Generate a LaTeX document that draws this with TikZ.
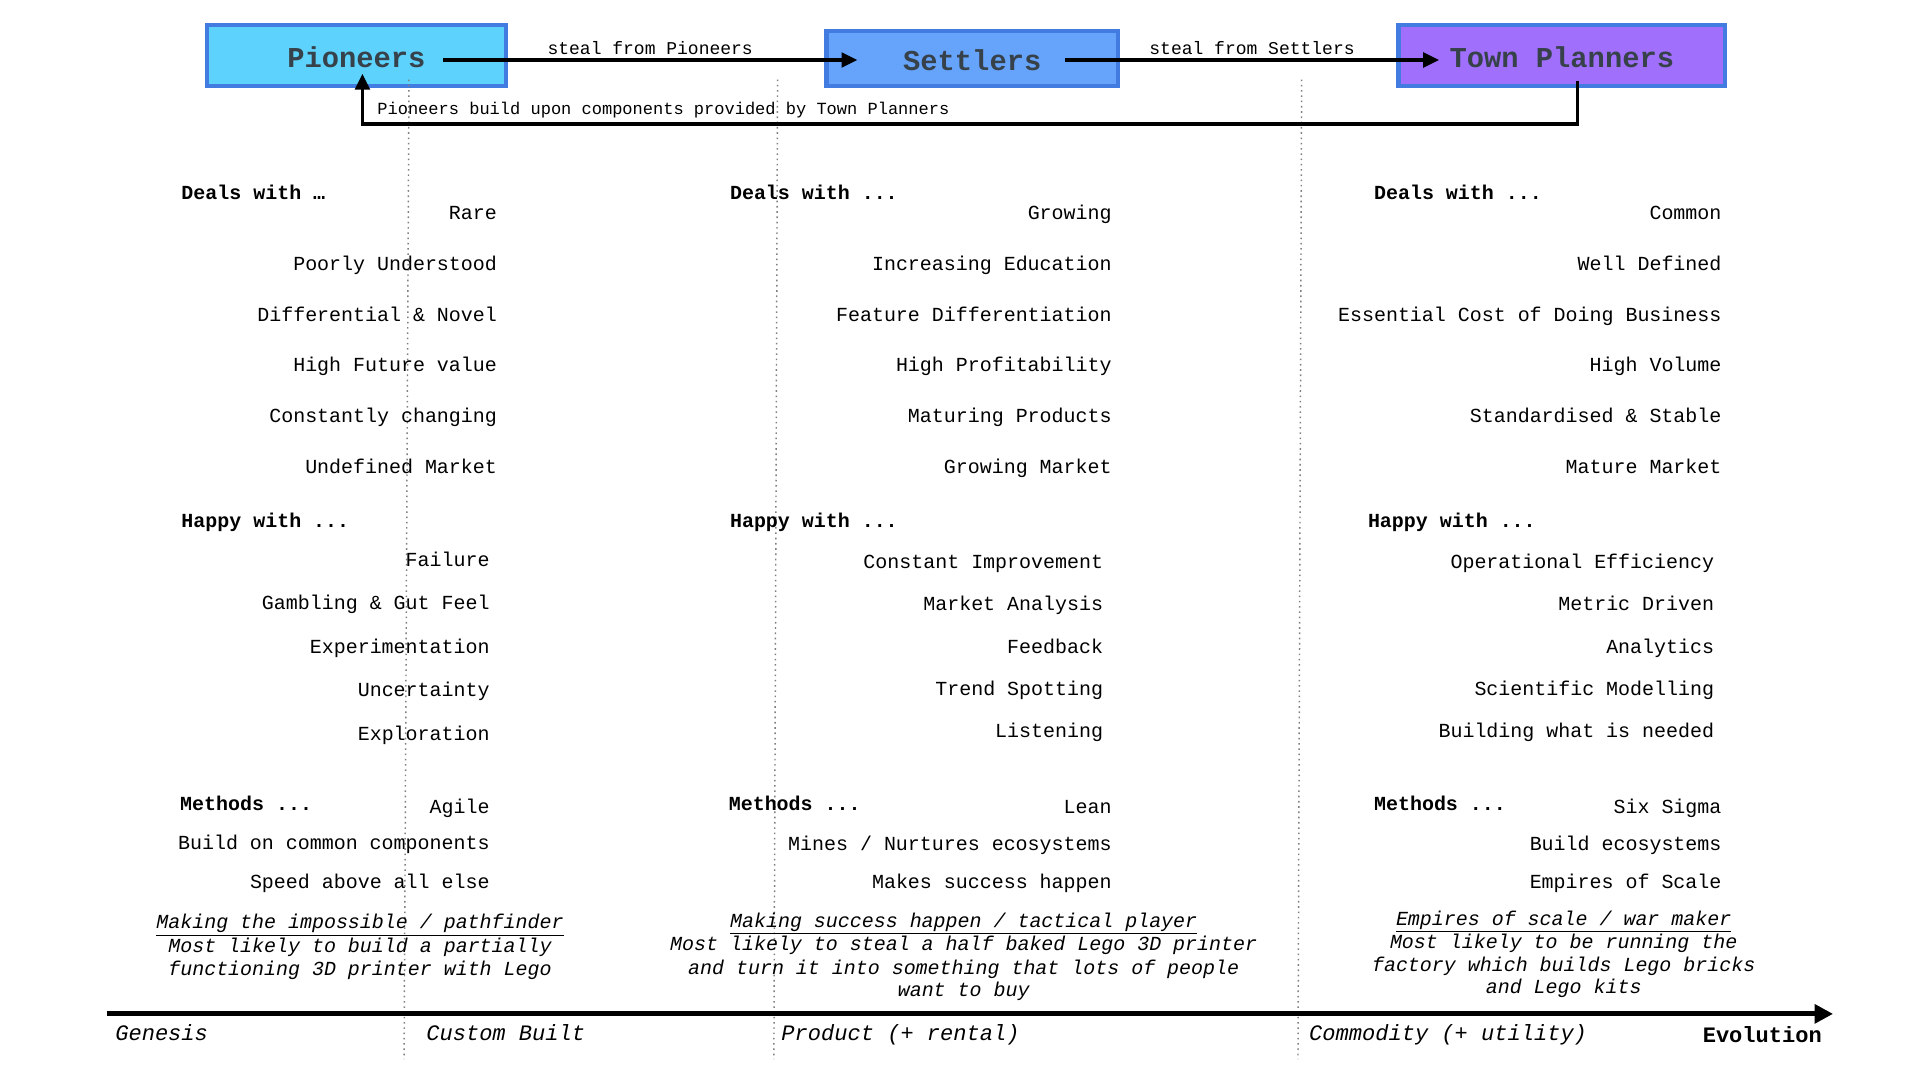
\documentclass[tikz,border=0pt]{standalone}
\usepackage{fontspec}
\setmainfont{Liberation Mono}
\usetikzlibrary{positioning,calc,arrows.meta}
\usepackage{xcolor}
\definecolor{pioneerfill}{HTML}{5CD2FD}
\definecolor{settlerfill}{HTML}{66A4FB}
\definecolor{plannerfill}{HTML}{A070FD}
\definecolor{boxborder}{HTML}{437CE0}
\definecolor{boxtext}{HTML}{37414A}
\tikzset{
  role/.style={
    rectangle, draw=boxborder, line width=3.5pt,
    minimum height=50pt, inner sep=0pt, text height=21pt, text depth=2pt,
    text=boxtext, font=\fontsize{23.5}{26}\selectfont\bfseries
    },
  flow/.style={line width=2.6pt, -{Triangle[length=13pt,width=12pt]}},
  flowlabel/.style={font=\fontsize{14.7}{16}\selectfont, inner sep=0pt},
  item/.style={anchor=mid east, inner sep=0pt, yshift=-3pt, font=\fontsize{16.3}{18}\selectfont},
  heading/.style={anchor=mid west, inner sep=0pt, yshift=-3pt, font=\fontsize{16.3}{18}\selectfont\bfseries},
  story/.style={anchor=mid, inner sep=0pt, yshift=-3pt, font=\fontsize{16.3}{18}\selectfont\itshape},
  stage/.style={anchor=mid west, inner sep=0pt, yshift=-3pt, font=\fontsize{18}{20}\selectfont\itshape},
  divider/.style={gray, line width=1.2pt, dash pattern=on 1.3pt off 3pt}
}

\begin{document}
\begin{tikzpicture}[x=1pt,y=-1pt]
    \useasboundingbox (0,0) rectangle (1568,882);

    % roles
    \node[role, fill=pioneerfill, minimum width=244pt] (pio) at (291,45.5) {Pioneers};
    \node[role, fill=settlerfill, minimum width=238pt, minimum height=45pt] (set) at (794,48) {Settlers};
    \node[role, fill=plannerfill, minimum width=267pt] (tow) at (1275.5,45.5) {Town Planners};

    % dividers
    \coordinate (dv1t) at (334,65);  \coordinate (dv1b) at (330,865);
    \coordinate (dv2t) at (635,65);  \coordinate (dv2b) at (632,865);
    \coordinate (dv3t) at (1063,65); \coordinate (dv3b) at (1060,865);
    \foreach \i in {1,2,3}
        \draw[divider] (dv\i t) -- (dv\i b);

    % stealing and feedback
    \draw[flow] ($(pio.east)+(-53,3.5)$) -- node[flowlabel, above=3pt] (stp) {steal from Pioneers} ($(set.west)+(27,1)$);
    \draw[flow] ($(set.east)+(-45,1)$) -- node[flowlabel, above=3pt] (sts) {steal from Settlers} ($(tow.west)+(35,3.5)$);
    \draw[flow] ($(tow.south)+(12.5,-6)$) |- ($(pio.south)+(5,29)$) coordinate (fbk) -- ($(pio.south)+(5,-12)$);
    \node[flowlabel, anchor=mid west, font=\fontsize{13.9}{15}\selectfont] (fbl) at ($(fbk)+(12,-10)$)
        {Pioneers build upon components provided by Town Planners};

    % pioneers column
    \node[heading] (pdh) at (148,157) {Deals with …};
    \foreach \t/\y [count=\i] in {Rare/174, Poorly Understood/215, {Differential \& Novel}/257,
        High Future value/298, Constantly changing/339, Undefined Market/381}
        \node[item] (pd\i) at (406,\y) {\t};
    \node[heading] (phh) at (148,425) {Happy with ...};
    \foreach \t/\y [count=\i] in {Failure/457, {Gambling \& Gut Feel}/492, Experimentation/528,
        Uncertainty/563, Exploration/599}
        \node[item] (ph\i) at (400,\y) {\t};
    \node[heading] (pmh) at (147,656) {Methods ...};
    \foreach \t/\y [count=\i] in {Agile/659, Build on common components/688, Speed above all else/720}
        \node[item] (pm\i) at (400,\y) {\t};
    \node[story] (ps0) at (294,753) {\underline{Making the impossible / pathfinder}};
    \foreach \t/\y [count=\i] in {Most likely to build a partially/772, functioning 3D printer with Lego/791}
        \node[story] (ps\i) at (294,\y) {\t};

    % settlers column
    \node[heading] (sdh) at (596,157) {Deals with ...};
    \foreach \t/\y [count=\i] in {Growing/174, Increasing Education/215, Feature Differentiation/257,
        High Profitability/298, Maturing Products/339, Growing Market/381}
        \node[item] (sd\i) at (908,\y) {\t};
    \node[heading] (shh) at (596,425) {Happy with ...};
    \foreach \t/\y [count=\i] in {Constant Improvement/459, Market Analysis/493, Feedback/528,
        Trend Spotting/562, Listening/597}
        \node[item] (sh\i) at (901,\y) {\t};
    \node[heading] (smh) at (595,656) {Methods ...};
    \foreach \t/\y [count=\i] in {Lean/659, {Mines / Nurtures ecosystems}/689, Makes success happen/720}
        \node[item] (sm\i) at (908,\y) {\t};
    \node[story] (ss0) at (787,752) {\underline{Making success happen / tactical player}};
    \foreach \t/\y [count=\i] in {Most likely to steal a half baked Lego 3D printer/771,
        and turn it into something that lots of people/790, want to buy/808}
        \node[story] (ss\i) at (787,\y) {\t};

    % town planners column
    \node[heading] (tdh) at (1122,157) {Deals with ...};
    \foreach \t/\y [count=\i] in {Common/174, Well Defined/215, Essential Cost of Doing Business/257,
        High Volume/298, {Standardised \& Stable}/339, Mature Market/381}
        \node[item] (td\i) at (1406,\y) {\t};
    \node[heading] (thh) at (1117,425) {Happy with ...};
    \foreach \t/\y [count=\i] in {Operational Efficiency/459, Metric Driven/493, Analytics/528,
        Scientific Modelling/562, Building what is needed/597}
        \node[item] (th\i) at (1400,\y) {\t};
    \node[heading] (tmh) at (1122,656) {Methods ...};
    \foreach \t/\y [count=\i] in {Six Sigma/659, Build ecosystems/689, Empires of Scale/720}
        \node[item] (tm\i) at (1406,\y) {\t};
    \node[story] (ts0) at (1277,750) {\underline{Empires of scale / war maker}};
    \foreach \t/\y [count=\i] in {Most likely to be running the/769,
        factory which builds Lego bricks/788, and Lego kits/806}
        \node[story] (ts\i) at (1277,\y) {\t};

    % evolution axis
    \coordinate (ax0) at (87,828);
    \coordinate (ax1) at (1497,828);
    \draw[line width=4pt, -{Triangle[length=15pt,width=15pt]}] (ax0) -- (ax1);
    \foreach \t/\x [count=\i] in {Genesis/94, Custom Built/348, Product (+ rental)/638, Commodity (+ utility)/1069}
        \node[stage] (st\i) at (\x,844) {\t};
    \node[anchor=mid east, inner sep=0pt, yshift=-3pt, font=\fontsize{18}{20}\selectfont\bfseries] (evo) at (1488,846) {Evolution};
\end{tikzpicture}
\end{document}
